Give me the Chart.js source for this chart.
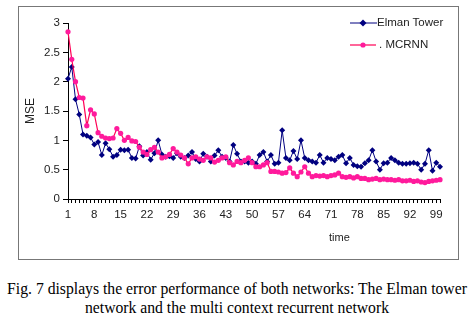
<!DOCTYPE html>
<html>
<head>
<meta charset="utf-8">
<script src="https://cdn.jsdelivr.net/npm/chart.js@4.4.1/dist/chart.umd.min.js"></script>
<style>
  body { margin: 0; background: #fff; width: 474px; height: 322px; position: relative; overflow: hidden; font-family: "Liberation Sans", Arial, sans-serif; }
  #box { position: absolute; left: 18px; top: 6px; width: 439px; height: 252px; border: 1px solid #777; }
  #chart { position: absolute; left: 0; top: 0; }
  .lbl { position: absolute; font-size: 11px; color: #222; white-space: nowrap; line-height: 13px; }
  .key { position: absolute; }
  #caption { position: absolute; left: 0; top: 279px; width: 474px; text-align: center; font-family: "Liberation Serif", "Times New Roman", serif; font-size: 15.7px; line-height: 19px; color: #000; white-space: nowrap; }
</style>
</head>
<body>
<div id="box"><canvas id="chart" width="439" height="252"></canvas></div>

<!-- legend, Excel style: line with marker -->
<svg class="key" style="left:348px;top:16px" width="30" height="36">
  <line x1="2" y1="7" x2="29" y2="7" stroke="#000080" stroke-width="1"/>
  <polygon points="15,3.5 18.5,7 15,10.5 11.5,7" fill="#000080"/>
  <line x1="2" y1="29" x2="28" y2="29" stroke="#ff0055" stroke-width="1.2"/>
  <circle cx="15" cy="29" r="2.6" fill="#ff1a9c"/>
</svg>
<div class="lbl" style="left:377px;top:16px;font-size:11.5px">Elman Tower</div>
<div class="lbl" style="left:379px;top:38px;font-size:11.5px">. MCRNN</div>
<div class="lbl" style="left:329px;top:231px">time</div>

<div id="caption">Fig. 7 displays the error performance of both networks: The Elman tower<br>network and the multi context recurrent network</div>

<script>
// time steps 1..100
const timeSteps = [
    1, 2, 3, 4, 5, 6, 7, 8, 9, 10,
    11, 12, 13, 14, 15, 16, 17, 18, 19, 20,
    21, 22, 23, 24, 25, 26, 27, 28, 29, 30,
    31, 32, 33, 34, 35, 36, 37, 38, 39, 40,
    41, 42, 43, 44, 45, 46, 47, 48, 49, 50,
    51, 52, 53, 54, 55, 56, 57, 58, 59, 60,
    61, 62, 63, 64, 65, 66, 67, 68, 69, 70,
    71, 72, 73, 74, 75, 76, 77, 78, 79, 80,
    81, 82, 83, 84, 85, 86, 87, 88, 89, 90,
    91, 92, 93, 94, 95, 96, 97, 98, 99, 100
]

// only every 7th step gets a label
const shownTimeLabels = [1, 8, 15, 22, 29, 36, 43, 50, 57, 64, 71, 78, 85, 92, 99]

const mseTicks = [0, 0.5, 1, 1.5, 2, 2.5, 3]

const elmanTower = [
    2.05, 2.25, 1.70, 1.44, 1.10, 1.08, 1.05, 0.93, 0.97, 0.75,
    0.95, 0.85, 0.72, 0.75, 0.84, 0.83, 0.84, 0.70, 0.69, 0.90,
    0.74, 0.80, 0.67, 0.78, 1.00, 0.76, 0.72, 0.73, 0.70, 0.78,
    0.72, 0.70, 0.74, 0.80, 0.68, 0.64, 0.77, 0.72, 0.64, 0.74,
    0.83, 0.72, 0.70, 0.64, 0.92, 0.77, 0.64, 0.64, 0.62, 0.64,
    0.60, 0.75, 0.80, 0.64, 0.75, 0.60, 0.62, 1.17, 0.70, 0.66,
    0.82, 0.68, 1.00, 0.70, 0.66, 0.64, 0.62, 0.75, 0.62, 0.70,
    0.68, 0.66, 0.72, 0.75, 0.61, 0.70, 0.58, 0.56, 0.55, 0.61,
    0.66, 0.83, 0.64, 0.50, 0.61, 0.62, 0.70, 0.66, 0.62, 0.60,
    0.60, 0.61, 0.62, 0.60, 0.50, 0.60, 0.83, 0.48, 0.62, 0.55
]

const mcrnn = [
    2.85, 2.38, 2.00, 1.73, 1.72, 1.25, 1.52, 1.45, 1.13, 1.07,
    1.04, 1.03, 1.04, 1.20, 1.12, 1.00, 1.05, 0.99, 0.98, 0.88,
    0.80, 0.76, 0.84, 0.88, 0.80, 0.70, 0.72, 0.76, 0.86, 0.80,
    0.75, 0.70, 0.60, 0.70, 0.72, 0.68, 0.66, 0.72, 0.70, 0.63,
    0.66, 0.70, 0.72, 0.62, 0.58, 0.64, 0.62, 0.66, 0.70, 0.62,
    0.55, 0.55, 0.58, 0.62, 0.47, 0.47, 0.46, 0.44, 0.45, 0.53,
    0.44, 0.38, 0.46, 0.55, 0.44, 0.38, 0.40, 0.39, 0.40, 0.38,
    0.40, 0.41, 0.44, 0.38, 0.37, 0.38, 0.36, 0.38, 0.35, 0.35,
    0.33, 0.34, 0.35, 0.33, 0.34, 0.33, 0.33, 0.32, 0.33, 0.31,
    0.31, 0.32, 0.30, 0.31, 0.29, 0.28, 0.30, 0.31, 0.32, 0.33
]

const tickFont = { family: "'Liberation Sans', Arial, sans-serif", size: 11.5 }

new Chart("chart", {
    type: "line",
    data: {
        labels: timeSteps,
        datasets: [
            {
                label: "Elman Tower",
                data: elmanTower,
                borderColor: "#000080",
                backgroundColor: "#000080",
                borderWidth: 1,
                pointStyle: "rectRot",
                pointRadius: 3,
                pointBorderWidth: 0,
                tension: 0,
                order: 1
            },
            {
                label: ". MCRNN",
                data: mcrnn,
                borderColor: "#ff0055",
                backgroundColor: "#ff1a9c",
                borderWidth: 1.2,
                pointStyle: "circle",
                pointRadius: 2.6,
                pointBorderWidth: 0,
                tension: 0,
                order: 0
            }
        ]
    },
    options: {
        responsive: false,
        animation: false,
        devicePixelRatio: 1,
        layout: { padding: { left: 0, right: 18, top: 16, bottom: 0 } },
        plugins: {
            legend: { display: false },
            tooltip: { enabled: false }
        },
        scales: {
            x: {
                offset: false,
                grid: { display: true, drawOnChartArea: false, drawTicks: true, tickLength: 4, color: "#000" },
                border: { display: true, color: "#000", width: 1 },
                ticks: {
                    autoSkip: false,
                    maxRotation: 0,
                    padding: 5,
                    color: "#222",
                    font: tickFont,
                    callback: function (value) {
                        const t = timeSteps[value]
                        return shownTimeLabels.includes(t) ? String(t) : ""
                    }
                },
                afterFit: function (scale) { scale.height = 60 }
            },
            y: {
                min: 0,
                max: 3,
                afterBuildTicks: function (scale) {
                    scale.ticks = mseTicks.map(v => ({ value: v }))
                },
                grid: { display: true, drawOnChartArea: false, drawTicks: true, tickLength: 5, color: "#000" },
                border: { display: true, color: "#000", width: 1 },
                ticks: {
                    padding: 3,
                    color: "#222",
                    font: tickFont,
                    callback: function (value) { return String(value) }
                },
                title: { display: true, text: "MSE", color: "#222", font: { family: tickFont.family, size: 12 }, padding: { top: 4, bottom: 0 } },
                afterFit: function (scale) { scale.width = 49 }
            }
        }
    }
})
</script>
</body>
</html>
